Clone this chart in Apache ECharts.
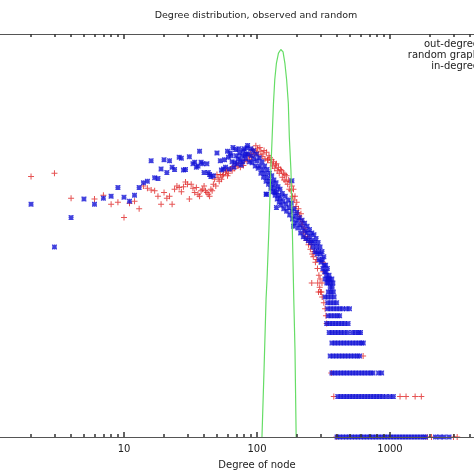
<!DOCTYPE html>
<html lang="en">
<head>
<meta charset="UTF-8">
<title>Degree distribution, observed and random</title>
<style>
    html, body { margin: 0; padding: 0; background: #fff; }
    #chart { width: 474px; height: 474px; }
</style>
</head>
<body>
<div id="chart"></div>
<script src="https://cdn.jsdelivr.net/npm/echarts@6/dist/echarts.min.js"></script>
<script>
// degree -> number of nodes (out-degree, red +)
var outDegree = [
    [2,87],[3,92],[4,60],[6,59],[7,63],[8,54],[9,56],[10,43],[11,55],[12,57],[13,50],[14,74],[15,71],
    [16,69],[17,68],[18,62],[19,54],[20,66],[21,60],[22,62],[23,54],[24,70],[25,74],[26,72],[27,67],
    [28,73],[29,79],[30,76],[31,59],[32,76],[33,71],[34,66],[35,72],[36,64],[37,62],[38,68],[39,70],
    [40,74],[41,68],[42,66],[43,64],[44,62],[45,70],[46,68],[47,76],[48,83],[49,74],[50,90],[51,85],
    [52,80],[53,90],[54,83],[55,88],[56,90],[58,94],[59,96],[60,88],
    [61,92],[63,99],[65,96],[66,103],[68,100],[70,108],[72,104],[75,102],[77,110],[79,105],[81,116],
    [84,113],[86,124],[88,117],[89,128],[91,122],[92,138],[94,135],[96,128],[98,147],[99,132],[101,140],
    [103,126],[105,143],[107,134],[109,122],[111,128],[113,136],[115,118],[118,132],[120,115],[121,117],
    [123,124],[125,120],[127,110],[129,116],[131,104],[133,112],[136,100],[138,106],[140,108],[142,96],
    [145,102],[147,92],[150,98],[153,96],[155,86],[158,92],[160,82],[162,90],[165,80],[167,88],[170,76],
    [173,82],[175,70],[177,80],[180,68],[183,74],[185,62],[188,70],[190,58],[193,62],[196,52],[199,56],
    [202,47],[205,50],[208,44],[211,42],[214,46],[217,38],[220,40],[223,33],[226,36],[229,31],[233,34],
    [236,29],[240,31],[244,27],[248,29],[252,25],[256,27],[258,14],[260,23],[265,22],[270,24],[275,20],
    [281,21],[285,18],[286,14],[290,12],[292,16],[296,13],[298,15],[300,12],[305,12],[308,14],[309,11],
    [313,20],[315,17],[318,10],[325,9],[330,8],[334,7],[362,3],[378,2],[395,1],[628,4],
    [1190,2],[1320,2],[1545,2],[1720,2],[1900,1],[2050,1],[3000,1],[3200,1]
];

// in-degree (blue), upper part of the cloud
var inDegree = [
    [2,54],[3,26],[4,43],[5,59],[6,54],[7,60],[8,62],[9,72],[10,61],[11,57],[12,63],[13,72],[14,78],
    [15,80],[16,114],[17,85],[18,84],[19,99],[20,116],[21,93],[22,114],[23,102],[24,98],[26,121],[27,119],
    [28,97],[29,98],[31,122],[33,108],[34,111],[35,102],[36,104],[37,134],[38,111],[39,108],[40,93],
    [42,108],[43,93],[44,90],[45,87],[47,88],[50,130],[53,114],[54,97],[56,99],[57,116],[58,102],
    [60,134],[61,121],[62,99],[63,130],[64,124],[65,112],[66,143],[67,102],[68,110],[69,138],[70,124],
    [71,108],[72,118],[73,140],[74,130],[75,115],[76,106],[77,124],[78,112],[79,135],[80,140],[81,125],
    [82,118],[83,128],[84,142],
    [85,148],[86,128],[88,112],[90,140],[91,124],[92,110],[94,135],[95,118],[97,104],[99,128],[100,114],
    [102,100],[104,120],[105,104],[107,92],[109,112],[110,97],[112,86],[114,104],[115,91],[117,80],
    [119,98],[120,85],[122,76],[124,92],[125,80],[127,71],[129,88],[130,76],[132,67],[134,82],[135,72],
    [137,63],[139,78],[140,67],[142,59],[144,73],[145,63],[147,56],[149,70],[150,60],[152,53],[155,65],
    [157,57],[159,50],[163,62],[165,54],[167,48],[172,58],[174,51],[176,45],[181,55],[183,48],[185,42],
    [190,50],[192,44],[194,39],[199,47],[201,41],[203,36],[208,43],[210,38],[213,33],[218,41],[220,36],
    [223,31],[228,39],[230,34],[233,30],[238,37],[240,33],[243,29],[248,35],[250,31],[253,28],[258,33],
    [260,29],[263,26],[268,32],[270,28],[273,24],[278,30],[280,26],[283,23],[288,28],[290,24],[293,21],
    [298,26],[300,23],[303,20],[308,24],[310,21],[313,18],[318,22],[320,19],[323,17],[328,19],[330,17],
    [333,16],[338,18],[340,15],[343,14],[348,16],[352,15],[358,14],[365,15],[325,15],[345,15],[355,13],
    [335,14],[368,13],[372,14],
    [117,64],[118,64],[136,66],[140,51],[183,81],[188,37]
];

// in-degree (blue), low counts: [count, degrees]
var inDegreeTail = [
    [1, [400,421,443,467,491,517,545,573,604,636,669,705,742,781,822,866,912,960,1011,1064,1120,
         1180,1242,1308,1377,1450,1527,1608,1693,1782,1850,2200,2380,2550,2780]],
    [2, [405,426,449,473,498,524,552,581,612,645,679,715,753,793,835,880,935,1000,1060]],
    [3, [366,385,405,427,449,473,498,525,552,582,613,645,680,716,745,820,865]],
    [4, [355,374,394,415,437,460,484,510,537,566,590]],
    [5, [366,385,405,427,449,473,498,525,552,582,610,630]],
    [6, [349,367,387,407,429,452,480,522,550,580,600]],
    [7, [334,352,370,390,411,433,456,484]],
    [8, [344,362,381,401,418]],
    [9, [340,358,377,397,418,440,470,496]],
    [10, [340,358,377,397]],
    [11, [325,342,360,380]],
    [12, [344,360,375]]
];

// expected distribution for a random graph (green line)
var randomGraph = [
    [107,0.7],[109,1],[113,3.2],[117,10.7],[119,15],[123,36],[127,96],[130,171],[133,304],[136,456],
    [140,608],[145,720],[151,767],[157,735],[162,608],[167,456],[172,304],[175,171],[180,96],[183,50],
    [189,10.7],[193,4.5],[197,1],[200,0.7]
];

var majorTicks = [1, 10, 100, 1000, 10000];
var minorTicks = [2,3,4,5,6,7,8,9,20,30,40,50,60,70,80,90,200,300,400,500,600,700,800,900,
                  2000,3000,4000,5000,6000,7000,8000,9000];
var tickLabels = [10, 100, 1000];

var inData = inDegree.slice();
inDegreeTail.forEach(function (row) {
    row[1].forEach(function (d) { inData.push([d, row[0]]); });
});

var font = 'DejaVu Sans';
var axisColor = '#333';
var plusPath = 'path://M0,2.5L6,2.5L6,3.5L0,3.5Z M2.5,0L3.5,0L3.5,6L2.5,6Z';
var starPath = 'path://M0,0L1.4,0L3,1.6L4.6,0L6,0L6,1.4L4.4,3L6,4.6L6,6L4.6,6L3,4.4L1.4,6L0,6L0,4.6L1.6,3L0,1.4Z' +
    ' M2.4,0L3.6,0L3.6,6L2.4,6Z M0,2.4L6,2.4L6,3.6L0,3.6Z';

// one x axis layer: a set of ticks on the top or bottom edge
function xAxisPart(pos, ticks, len, showLine, extra) {
    var a = {
        type: 'log', position: pos, min: 1, max: 10000, z: 5,
        axisLine: { show: showLine, lineStyle: { color: '#555', width: 1 } },
        axisTick: { show: true, inside: true, length: len, customValues: ticks,
                    lineStyle: { color: axisColor, width: 1.5 } },
        axisLabel: { show: false },
        splitLine: { show: false }
    };
    for (var k in extra) a[k] = extra[k];
    return a;
}

var chart = echarts.init(document.getElementById('chart'));
chart.setOption({
    animation: false,
    backgroundColor: '#fff',
    title: {
        text: 'Degree distribution, observed and random',
        left: 256, top: 11, textAlign: 'center', padding: 0,
        textStyle: { fontFamily: font, fontSize: 9.5, fontWeight: 'normal', color: '#222' }
    },
    legend: {
        data: ['out-degree', 'random graph', 'in-degree'],
        orient: 'vertical', align: 'right', right: -25, top: 39, padding: 0,
        itemWidth: 14, itemHeight: 9, itemGap: 1, selectedMode: false,
        textStyle: { fontFamily: font, fontSize: 10, color: '#222' }
    },
    grid: { left: -9, right: -49, top: 34, bottom: 37, containLabel: false, outerBoundsMode: 'none' },
    xAxis: [
        xAxisPart('bottom', majorTicks, 5, true, {
            name: 'Degree of node', nameLocation: 'middle', nameGap: 23,
            nameTextStyle: { fontFamily: font, fontSize: 10, color: '#222' },
            axisLabel: { show: true, customValues: tickLabels, margin: 7,
                         fontFamily: font, fontSize: 10, color: '#222',
                         formatter: function (v) { return String(v); } }
        }),
        xAxisPart('bottom', minorTicks, 3, false, {}),
        xAxisPart('top', majorTicks, 5, true, {}),
        xAxisPart('top', minorTicks, 3, false, {})
    ],
    yAxis: { type: 'log', min: 1, max: 1000, show: false },
    series: [
        {
            name: 'out-degree', type: 'scatter', data: outDegree,
            symbol: plusPath, symbolSize: 6,
            itemStyle: { color: '#e02828' }
        },
        {
            name: 'random graph', type: 'line', data: randomGraph,
            symbol: 'none', clip: true,
            lineStyle: { color: '#66dd66', width: 1.2 },
            itemStyle: { color: '#66dd66' }
        },
        {
            name: 'in-degree', type: 'scatter', data: inData,
            symbol: starPath, symbolSize: 5,
            itemStyle: { color: '#1212d6' }
        }
    ]
});
</script>
</body>
</html>
